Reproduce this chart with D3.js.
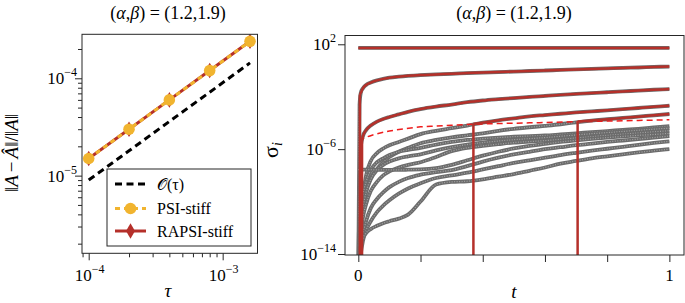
<!DOCTYPE html>
<html>
<head>
<meta charset="utf-8">
<script src="https://cdn.jsdelivr.net/npm/d3@7"></script>
<style>
  body { margin: 0; background: #fff; }
  text { font-family: "Liberation Serif", "DejaVu Serif", serif; fill: #000; }
</style>
</head>
<body>
<div id="chart"></div>
<script>
// ---- left panel data: relative error vs step size ----
const tau = [1e-4, 2e-4, 4e-4, 8e-4, 1.6e-3];
const errPSI = [1.5e-5, 3.0e-5, 6.0e-5, 1.2e-4, 2.4e-4];
const errRAPSI = [1.5e-5, 3.0e-5, 6.0e-5, 1.2e-4, 2.4e-4];
const orderRef = [9.0e-6, 1.8e-5, 3.6e-5, 7.2e-5, 1.44e-4];
const legendLabels = ["𝒪(τ)", "PSI-stiff", "RAPSI-stiff"];

// ---- right panel data: singular values over time (log10) ----
const tGrid = [0, 0.004, 0.008, 0.015, 0.025, 0.04, 0.06, 0.08, 0.1, 0.13, 0.16, 0.2, 0.25, 0.3,
  0.35, 0.4, 0.45, 0.5, 0.55, 0.6, 0.65, 0.7, 0.75, 0.8, 0.85, 0.9, 0.95, 1.0];
const sigma1 = [1.72, 1.72, 1.72, 1.72, 1.72, 1.72, 1.72, 1.72, 1.72, 1.72, 1.72, 1.72, 1.72, 1.72,
  1.72, 1.72, 1.72, 1.72, 1.72, 1.72, 1.72, 1.72, 1.72, 1.72, 1.72, 1.72, 1.72, 1.72];
const sigma2 = [-15, -2.6, -1.7, -1.35, -1.1, -0.92, -0.75, -0.64, -0.55, -0.47, -0.41, -0.35, -0.3, -0.25,
  -0.2, -0.16, -0.12, -0.08, -0.04, 0.0, 0.04, 0.08, 0.12, 0.16, 0.2, 0.23, 0.27, 0.30];
const sigma3 = [-15, -9, -5.8, -5.0, -4.55, -4.2, -3.9, -3.7, -3.55, -3.35, -3.15, -2.94, -2.75, -2.6,
  -2.42, -2.29, -2.19, -2.1, -2.02, -1.94, -1.86, -1.79, -1.72, -1.66, -1.6, -1.53, -1.47, -1.42];
const sigma4 = [-15, -13, -11, -9.5, -8.0, -6.9, -6.3, -5.95, -5.7, -5.45, -5.2, -4.85, -4.6, -4.4,
  -4.2, -3.98, -3.8, -3.65, -3.5, -3.4, -3.3, -3.2, -3.12, -3.04, -2.95, -2.86, -2.77, -2.69];
const sigma5 = [-15, -13.5, -12, -10.5, -9.2, -8.2, -7.5, -7.0, -6.6, -6.2, -5.9, -5.55, -5.3, -5.1,
  -4.95, -4.8, -4.6, -4.45, -4.33, -4.22, -4.1, -3.95, -3.82, -3.72, -3.62, -3.52, -3.42, -3.32];
const sigma6 = [-15, -13, -11, -9.5, -8.5, -7.6, -7.0, -6.7, -6.45, -6.2, -6.05, -5.9, -5.65, -5.45,
  -5.3, -5.2, -5.12, -5.05, -5.0, -4.96, -4.88, -4.8, -4.7, -4.62, -4.53, -4.45, -4.35, -4.25];
const sigma7 = [-15, -13.5, -12, -10.5, -9.3, -8.3, -7.6, -7.2, -6.95, -6.7, -6.55, -6.4, -6.1, -5.85,
  -5.65, -5.5, -5.38, -5.28, -5.2, -5.12, -5.02, -4.92, -4.82, -4.74, -4.65, -4.56, -4.48, -4.4];
const sigma8 = [-15, -14, -12.5, -11.2, -10.2, -9.2, -8.5, -8.0, -7.7, -7.4, -7.2, -7.0, -6.6, -6.15,
  -5.9, -5.75, -5.62, -5.5, -5.42, -5.35, -5.25, -5.15, -5.05, -4.95, -4.86, -4.77, -4.68, -4.6];
const sigma9 = [-7.56, -7.56, -7.56, -7.56, -7.57, -7.57, -7.58, -7.58, -7.58, -7.58, -7.57, -7.55, -7.45, -7.2,
  -6.85, -6.5, -6.2, -5.95, -5.75, -5.6, -5.45, -5.33, -5.22, -5.12, -5.03, -4.95, -4.88, -4.8];
const sigma10 = [-15, -14.5, -13.5, -12.5, -11.5, -10.5, -9.8, -9.3, -8.9, -8.5, -8.2, -7.95, -7.75, -7.6,
  -7.3, -6.95, -6.65, -6.4, -6.2, -6.0, -5.85, -5.7, -5.58, -5.45, -5.34, -5.23, -5.12, -5.0];
const sigma11 = [-15, -15, -14, -13, -12.2, -11.5, -10.8, -10.3, -9.9, -9.4, -9.0, -8.6, -8.2, -8.0,
  -7.8, -7.55, -7.3, -7.05, -6.85, -6.65, -6.45, -6.28, -6.12, -5.97, -5.82, -5.67, -5.53, -5.4];
const sigma12 = [-15, -15, -13.5, -12.8, -12.4, -12.1, -11.85, -11.65, -11.5, -11.3, -11.0, -10.0, -8.7, -8.5,
  -8.45, -8.3, -8.1, -7.9, -7.65, -7.4, -7.1, -6.9, -6.7, -6.55, -6.4, -6.25, -6.12, -6.0];
const sigmaRef = [sigma1, sigma2, sigma3, sigma4, sigma5, sigma6, sigma7, sigma8, sigma9, sigma10, sigma11, sigma12];

// rank-adaptive approximation: time each singular value is switched on, and its first value
const rankOnTime = [0, 0.005, 0.012, 0.37, 0.705];
const rankOnExp = [1.72, -1.85, -5.3, -4.07, -3.89];

// truncation tolerance (dashed)
const tolTime = [0.004, 0.005, 0.01, 0.02, 0.03, 0.05, 0.1, 0.15, 0.2, 0.25, 0.3, 0.4, 0.5, 0.6, 0.7, 0.8, 0.9, 1.0];
const tolExp = [-20, -5.6, -5.35, -5.15, -5.05, -4.9, -4.62, -4.45, -4.3, -4.24, -4.18, -4.08, -4.02, -3.97,
  -3.91, -3.86, -3.81, -3.76];

const W = 685, H = 303;
const svg = d3.select("#chart").append("svg").attr("width", W).attr("height", H);
svg.append("rect").attr("width", W).attr("height", H).attr("fill", "#fff");

const colRed = "#b5302a", colOrange = "#f1b42f", colGrey = "#6c6c6c", spine = "#262626";
const tickFont = 17, supFont = 12;

// a run of text pieces laid out side by side, anchored start/middle/end
function richText(parent, x, y, pieces, anchor) {
  const g = parent.append("g");
  let w = 0;
  const nodes = pieces.map(p => {
    const t = g.append("text").attr("y", y + (p.dy || 0)).attr("font-size", p.size)
      .attr("font-style", p.italic ? "italic" : "normal").text(p.s);
    const len = t.node().getComputedTextLength() + (p.gap || 0);
    const n = { t, x: w + (p.pad || 0) };
    w += len + (p.pad || 0);
    return n;
  });
  const left = anchor === "end" ? x - w : anchor === "middle" ? x - w / 2 : x;
  nodes.forEach(n => n.t.attr("x", left + n.x));
  return g;
}
function powLabel(parent, x, y, exp, anchor) {
  return richText(parent, x, y, [{ s: "10", size: tickFont }, { s: exp, size: supFont, dy: -8 }], anchor);
}

function logMinors(lo, hi) {
  const out = [];
  for (let e = Math.floor(Math.log10(lo)); e <= Math.ceil(Math.log10(hi)); e++) {
    for (let k = 2; k <= 9; k++) {
      const v = k * Math.pow(10, e);
      if (v >= lo && v <= hi) out.push(v);
    }
  }
  return out;
}

// ================= LEFT PANEL =================
const L = { x0: 82, x1: 257.5, y0: 34.3, y1: 253.3 };
const xL = d3.scaleLog().domain([Math.pow(10, -4.05), Math.pow(10, -2.74)]).range([L.x0, L.x1]);
const yL = d3.scaleLog().domain([Math.pow(10, -5.798), Math.pow(10, -3.548)]).range([L.y1, L.y0]);

const gL = svg.append("g");

function styleAxis(g) {
  g.select(".domain").remove();
  g.selectAll(".tick line").attr("stroke", spine).attr("stroke-width", 1);
}
gL.append("g").attr("transform", `translate(0,${L.y1})`)
  .call(d3.axisBottom(xL).tickValues([1e-4, 1e-3]).tickSize(7).tickFormat("")).call(styleAxis);
gL.append("g").attr("transform", `translate(0,${L.y1})`)
  .call(d3.axisBottom(xL).tickValues(logMinors(xL.domain()[0], xL.domain()[1])).tickSize(4).tickFormat("")).call(styleAxis);
gL.append("g").attr("transform", `translate(${L.x0},0)`)
  .call(d3.axisLeft(yL).tickValues([1e-5, 1e-4]).tickSize(7).tickFormat("")).call(styleAxis);
gL.append("g").attr("transform", `translate(${L.x0},0)`)
  .call(d3.axisLeft(yL).tickValues(logMinors(yL.domain()[0], yL.domain()[1])).tickSize(4).tickFormat("")).call(styleAxis);

[[1e-4, "−4"], [1e-3, "−3"]].forEach(([v, e]) => powLabel(gL, xL(v) + 1, 281, e, "middle"));
[[1e-4, "−4"], [1e-5, "−5"]].forEach(([v, e]) => powLabel(gL, 77, yL(v) + 6, e, "end"));

svg.append("clipPath").attr("id", "clipL").append("rect")
  .attr("x", L.x0).attr("y", L.y0).attr("width", L.x1 - L.x0).attr("height", L.y1 - L.y0);

const plotL = gL.append("g").attr("clip-path", "url(#clipL)");
const lineL = d3.line().x(d => xL(d[0])).y(d => yL(d[1]));

plotL.append("path").attr("d", lineL(tau.map((t, i) => [t, orderRef[i]])))
  .attr("fill", "none").attr("stroke", "#000").attr("stroke-width", 3).attr("stroke-dasharray", "7,4.5");
plotL.append("path").attr("d", lineL(tau.map((t, i) => [t, errRAPSI[i]])))
  .attr("fill", "none").attr("stroke", colRed).attr("stroke-width", 3);
plotL.selectAll(".dia").data(tau.map((t, i) => [t, errRAPSI[i]])).enter().append("path")
  .attr("d", d3.symbol().type(d3.symbolDiamond).size(70))
  .attr("transform", d => `translate(${xL(d[0])},${yL(d[1])})`).attr("fill", colRed);
plotL.append("path").attr("d", lineL(tau.map((t, i) => [t, errPSI[i]])))
  .attr("fill", "none").attr("stroke", colOrange).attr("stroke-width", 3).attr("stroke-dasharray", "5,4");
plotL.selectAll(".dot").data(tau.map((t, i) => [t, errPSI[i]])).enter().append("circle")
  .attr("cx", d => xL(d[0])).attr("cy", d => yL(d[1])).attr("r", 5.8).attr("fill", colOrange);

gL.append("rect").attr("x", L.x0).attr("y", L.y0).attr("width", L.x1 - L.x0).attr("height", L.y1 - L.y0)
  .attr("fill", "none").attr("stroke", spine).attr("stroke-width", 1);

// legend
const lg = gL.append("g");
lg.append("rect").attr("x", 107).attr("y", 169).attr("width", 144).attr("height", 77)
  .attr("fill", "#fff").attr("stroke", spine).attr("stroke-width", 1);
const rowY = [184, 208.5, 231];
lg.append("line").attr("x1", 115).attr("x2", 146).attr("y1", rowY[0]).attr("y2", rowY[0])
  .attr("stroke", "#000").attr("stroke-width", 3).attr("stroke-dasharray", "7,4.5");
lg.append("line").attr("x1", 115).attr("x2", 146).attr("y1", rowY[1]).attr("y2", rowY[1])
  .attr("stroke", colOrange).attr("stroke-width", 3).attr("stroke-dasharray", "5,4");
lg.append("circle").attr("cx", 130.5).attr("cy", rowY[1]).attr("r", 5.8).attr("fill", colOrange);
lg.append("line").attr("x1", 115).attr("x2", 146).attr("y1", rowY[2]).attr("y2", rowY[2])
  .attr("stroke", colRed).attr("stroke-width", 3);
lg.append("path").attr("d", d3.symbol().type(d3.symbolDiamond).size(70))
  .attr("transform", `translate(130.5,${rowY[2]})`).attr("fill", colRed);
legendLabels.forEach((s, i) => {
  lg.append("text").attr("x", 157).attr("y", rowY[i] + 5.5).attr("font-size", 16).text(s);
});

// titles / labels
function title(x) {
  richText(svg, x, 19, [
    { s: "(", size: 18 }, { s: "α", size: 18, italic: true }, { s: ",", size: 18 },
    { s: "β", size: 18, italic: true }, { s: ")", size: 18 }, { s: "=", size: 18, pad: 4.5, gap: 4.5 },
    { s: "(1.2,1.9)", size: 18 }], "middle");
}
title(168);
svg.append("text").attr("x", 168).attr("y", 297).attr("text-anchor", "middle")
  .attr("font-size", 19).attr("font-style", "italic").text("τ");
const ylG = svg.append("g").attr("transform", "translate(18,153) rotate(-90)");
richText(ylG, 0, 0, [
  { s: "‖", size: 19 }, { s: "A", size: 19, italic: true }, { s: "−", size: 19, pad: 3, gap: 3 },
  { s: "Â", size: 19, italic: true }, { s: "‖/‖", size: 19 }, { s: "A", size: 19, italic: true },
  { s: "‖", size: 19 }], "middle");

// ================= RIGHT PANEL =================
const R = { x0: 345, x1: 684, y0: 35.5, y1: 255 };
const xR = d3.scaleLinear().domain([-0.0428, 1.047]).range([R.x0, R.x1]);
const yR = d3.scaleLog().domain([Math.pow(10, -14.076), Math.pow(10, 2.67)]).range([R.y1, R.y0]);

const gR = svg.append("g");
gR.append("g").attr("transform", `translate(0,${R.y1})`)
  .call(d3.axisBottom(xR).tickValues([0, 0.2, 0.4, 0.6, 0.8, 1]).tickSize(7).tickFormat("")).call(styleAxis);
gR.append("g").attr("transform", `translate(${R.x0},0)`)
  .call(d3.axisLeft(yR).tickValues([1e2, 1e-6, 1e-14]).tickSize(7).tickFormat("")).call(styleAxis);

[[0, "0"], [1, "1"]].forEach(([v, s]) => {
  gR.append("text").attr("x", xR(v)).attr("y", 281).attr("text-anchor", "middle").attr("font-size", tickFont).text(s);
});
[[1e2, "2"], [1e-6, "−6"], [1e-14, "−14"]].forEach(([v, e]) => powLabel(gR, 336, yR(v) + 6, e, "end"));

svg.append("clipPath").attr("id", "clipR").append("rect")
  .attr("x", R.x0).attr("y", R.y0).attr("width", R.x1 - R.x0).attr("height", R.y1 - R.y0);
const plotR = gR.append("g").attr("clip-path", "url(#clipR)");
const lineR = d3.line().x(d => xR(d[0])).y(d => yR(Math.pow(10, Math.max(d[1], -20))));
const curveR = d3.line().curve(d3.curveMonotoneX).x(d => xR(d[0])).y(d => yR(Math.pow(10, Math.max(d[1], -20))));

// reference singular values (grey, dense x-markers approximated by a textured band)
sigmaRef.forEach(s => {
  const pts = tGrid.map((t, i) => [t, s[i]]);
  plotR.append("path").attr("d", curveR(pts)).attr("fill", "none")
    .attr("stroke", colGrey).attr("stroke-width", 3.8).attr("stroke-linejoin", "round");
  plotR.append("path").attr("d", curveR(pts)).attr("fill", "none")
    .attr("stroke", "#a4a4a4").attr("stroke-width", 1.2).attr("stroke-dasharray", "1,1.5");
});

// tolerance
plotR.append("path").attr("d", curveR(tolTime.map((t, i) => [t, tolExp[i]])))
  .attr("fill", "none").attr("stroke", "#ee1c1c").attr("stroke-width", 1.5).attr("stroke-dasharray", "6,4");

// rank-adaptive approximation (red): jump from zero, then follow the singular value
rankOnTime.forEach((t0, k) => {
  if (k > 0) {
    plotR.append("path").attr("d", lineR([[t0, -20], [t0, rankOnExp[k]]])).attr("fill", "none")
      .attr("stroke", colRed).attr("stroke-width", 2.5);
  }
  const pts = [[t0, rankOnExp[k]]];
  tGrid.forEach((t, i) => { if (t > t0) pts.push([t, sigmaRef[k][i]]); });
  plotR.append("path").attr("d", curveR(pts)).attr("fill", "none")
    .attr("stroke", colRed).attr("stroke-width", 2.5).attr("stroke-linejoin", "round");
});

gR.append("rect").attr("x", R.x0).attr("y", R.y0).attr("width", R.x1 - R.x0).attr("height", R.y1 - R.y0)
  .attr("fill", "none").attr("stroke", spine).attr("stroke-width", 1);

title(514);
svg.append("text").attr("x", xR(0.5)).attr("y", 298).attr("text-anchor", "middle")
  .attr("font-size", 19).attr("font-style", "italic").text("t");
const slG = svg.append("g").attr("transform", "translate(278,150) rotate(-90)");
richText(slG, 0, 0, [{ s: "σ", size: 22 }, { s: "i", size: 14, italic: true, dy: 4 }], "middle");
</script>
</body>
</html>
